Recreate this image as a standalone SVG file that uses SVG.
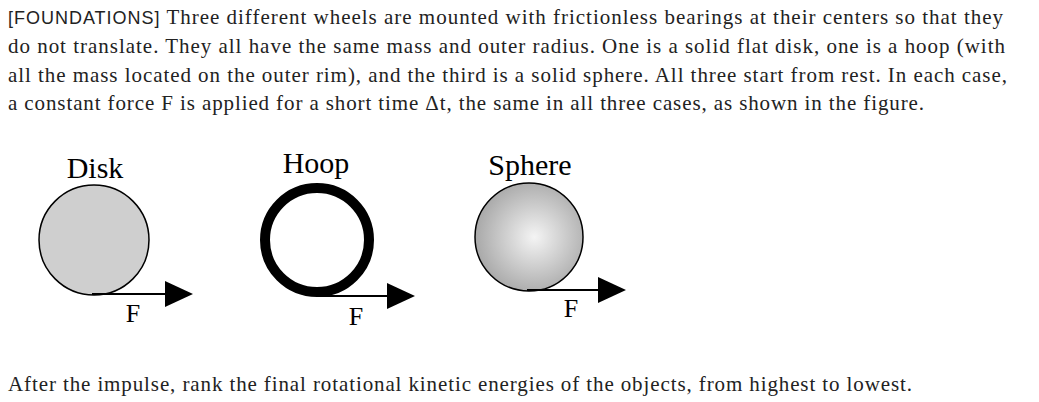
<svg xmlns="http://www.w3.org/2000/svg" width="1039" height="402" viewBox="0 0 1039 402">
<style>
.t{font-family:"Liberation Serif",serif;font-size:21px;fill:#222}
.s{font-family:"Liberation Sans",sans-serif;font-size:18px;fill:#222}
.l{font-family:"Liberation Serif",serif;font-size:30px;fill:#000;text-anchor:middle}
.f{font-size:26px}
.a{stroke:#000;stroke-width:2;fill:none}
</style>
<defs>
<marker id="ah" markerWidth="28" markerHeight="26" refX="0" refY="13" orient="auto" markerUnits="userSpaceOnUse"><path d="M0,0 L28,13 L0,26 Z" fill="#000"/></marker>
<radialGradient id="sg" cx="0.55" cy="0.5" r="0.55"><stop offset="0" stop-color="#f4f4f4"/><stop offset="1" stop-color="#a8a8a8"/></radialGradient>
</defs>
<rect width="1039" height="402" fill="#fff"/>
<text x="8" y="24" class="t" textLength="995" lengthAdjust="spacing"><tspan class="s">[FOUNDATIONS]</tspan> Three different wheels are mounted with frictionless bearings at their centers so that they</text>
<text x="8" y="53" class="t" textLength="997" lengthAdjust="spacing">do not translate.  They all have the same mass and outer radius. One is a solid flat disk, one is a hoop (with</text>
<text x="8" y="82" class="t" textLength="999" lengthAdjust="spacing">all the mass located on the outer rim), and the third is a solid sphere. All three start from rest.  In each case,</text>
<text x="8" y="110" class="t" textLength="916" lengthAdjust="spacing">a constant force F is applied for a short time Δt, the same in all three cases, as shown in the figure.</text>
<text x="8" y="391" class="t" textLength="904" lengthAdjust="spacing">After the impulse, rank the final rotational kinetic energies of the objects, from highest to lowest.</text>
<g id="disk"><text x="95" y="178" class="l">Disk</text><circle cx="94" cy="240" r="55" fill="#cfcfcf" stroke="#000" stroke-width="1.5"/><text x="133" y="322" class="l f">F</text></g>
<g id="hoop"><text x="316" y="173" class="l">Hoop</text><circle cx="317" cy="240" r="52" fill="none" stroke="#000" stroke-width="10"/><text x="356" y="325" class="l f">F</text></g>
<g id="sphere"><text x="530" y="175" class="l">Sphere</text><circle cx="529" cy="237" r="54" fill="url(#sg)" stroke="#000" stroke-width="1.5"/><text x="571" y="317" class="l f">F</text></g>
<g id="connectors">
<line x1="92" y1="294" x2="165" y2="294" class="a" marker-end="url(#ah)"/>
<line x1="317" y1="296" x2="387" y2="296" class="a" marker-end="url(#ah)"/>
<line x1="527" y1="290" x2="598" y2="290" class="a" marker-end="url(#ah)"/>
</g>
</svg>
